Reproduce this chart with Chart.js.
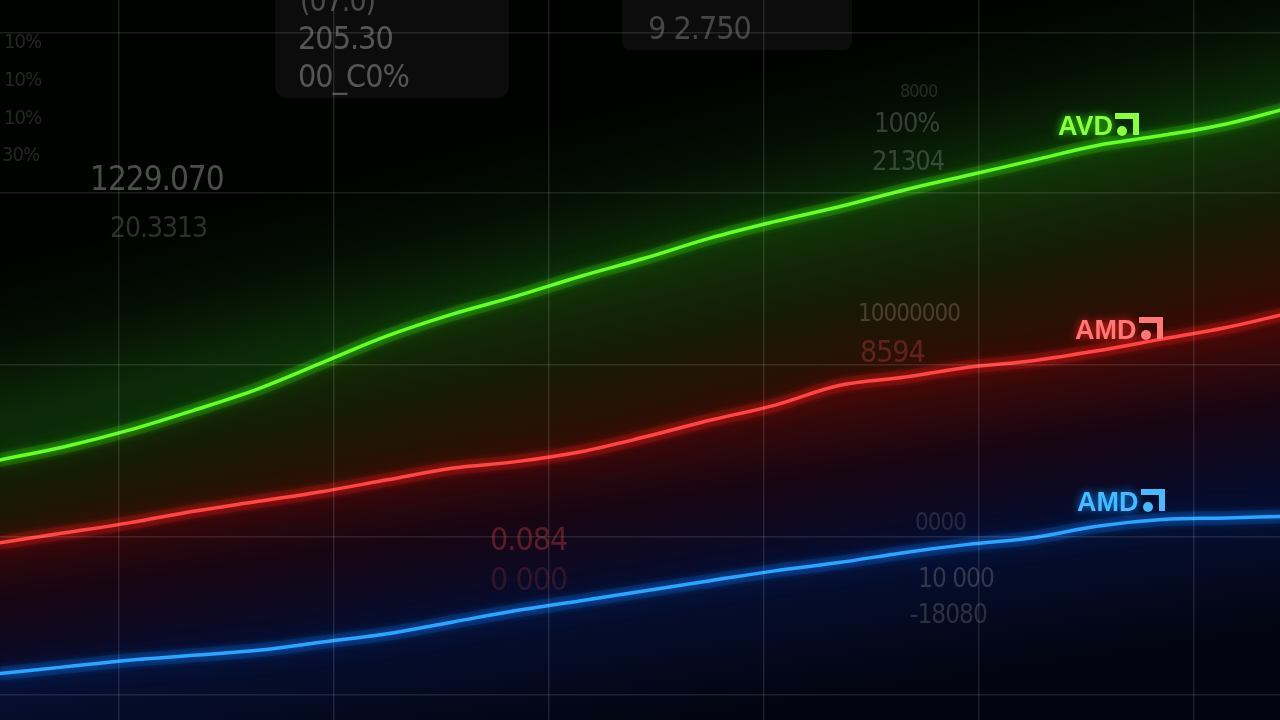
<!DOCTYPE html>
<html lang="en">
<head>
  <meta charset="utf-8" />
  <title>AMD glow lines</title>
  <style>
    html, body { margin: 0; padding: 0; background: #000; }
    body { width: 1280px; height: 720px; overflow: hidden; position: relative; font-family: "DejaVu Sans Condensed", "Liberation Sans Narrow", "DejaVu Sans", sans-serif; }
    #wrap { position: absolute; left: 0; top: 0; width: 1280px; height: 720px; }
    .t { position: absolute; white-space: nowrap; color: rgba(150,150,150,0.45); line-height: 1; letter-spacing: -1px; filter: blur(0.6px); }
    .box { position: absolute; background: rgba(255,255,255,0.045); border-radius: 12px; }
    .amd { position: absolute; font-family: "Liberation Sans", Arial, sans-serif; font-weight: bold; font-size: 27px; line-height: 1; white-space: nowrap; }
    .logo { display: inline-block; position: relative; width: 24px; height: 22px; margin-left: 2px; box-sizing: border-box; border-top: 6px solid currentColor; border-right: 6px solid currentColor; vertical-align: 0; }
    .logo i { position: absolute; left: 2px; bottom: -1px; width: 10px; height: 10px; background: currentColor; border-radius: 50%; }
  </style>
</head>
<body>
  <div id="wrap"><canvas id="chart"></canvas></div>

  <div class="box" style="left:275px;top:-12px;width:234px;height:110px;"></div>
  <div class="box" style="left:622px;top:-12px;width:230px;height:62px;border-radius:8px;"></div>

  <div class="t" style="left:300px;top:-14px;font-size:30px;">(07.0)</div>
  <div class="t" style="left:298px;top:22px;font-size:32px;color:rgba(160,160,160,0.5);">205.30</div>
  <div class="t" style="left:298px;top:60px;font-size:32px;color:rgba(160,160,160,0.5);">00_C0%</div>
  <div class="t" style="left:648px;top:12px;font-size:32px;color:rgba(140,140,140,0.45);">9 2.750</div>

  <div class="t" style="left:4px;top:31px;font-size:20px;color:rgba(120,120,120,0.3);">10%</div>
  <div class="t" style="left:4px;top:69px;font-size:20px;color:rgba(120,120,120,0.3);">10%</div>
  <div class="t" style="left:4px;top:107px;font-size:20px;color:rgba(120,120,120,0.3);">10%</div>
  <div class="t" style="left:2px;top:144px;font-size:20px;color:rgba(120,120,120,0.3);">30%</div>

  <div class="t" style="left:90px;top:162px;font-size:33px;color:rgba(150,150,150,0.5);">1229.070</div>
  <div class="t" style="left:110px;top:214px;font-size:28px;color:rgba(130,130,130,0.35);">20.3313</div>

  <div class="t" style="left:900px;top:82px;font-size:18px;color:rgba(120,120,120,0.3);">8000</div>
  <div class="t" style="left:874px;top:109px;font-size:27px;color:rgba(130,130,130,0.4);">100%</div>
  <div class="t" style="left:872px;top:147px;font-size:27px;color:rgba(130,130,130,0.4);">21304</div>

  <div class="t" style="left:858px;top:301px;font-size:24px;color:rgba(140,120,120,0.4);">10000000</div>
  <div class="t" style="left:860px;top:337px;font-size:30px;color:rgba(200,70,70,0.35);">8594</div>

  <div class="t" style="left:490px;top:523px;font-size:32px;color:rgba(200,60,60,0.4);">0.084</div>
  <div class="t" style="left:490px;top:563px;font-size:32px;color:rgba(160,50,70,0.25);">0 000</div>

  <div class="t" style="left:915px;top:510px;font-size:24px;color:rgba(110,110,130,0.3);">0000</div>
  <div class="t" style="left:918px;top:565px;font-size:26px;color:rgba(120,120,130,0.4);">10 000</div>
  <div class="t" style="left:910px;top:601px;font-size:26px;color:rgba(120,120,130,0.35);">-18080</div>

  <div class="amd" style="left:1058px;top:113px;color:#8bff3c;text-shadow:0 0 8px #3cff00;">AVD<span class="logo"><i></i></span></div>
  <div class="amd" style="left:1075px;top:317px;color:#ff7878;text-shadow:0 0 8px #ff2020;">AMD<span class="logo"><i></i></span></div>
  <div class="amd" style="left:1077px;top:489px;color:#45bcff;text-shadow:0 0 8px #0a8cff;">AMD<span class="logo"><i></i></span></div>

  <script src="https://cdn.jsdelivr.net/npm/chart.js@4.4.1/dist/chart.umd.min.js"></script>
  <script>
  // values (unitless index, x in grid steps)
  const xValues = [0.45, 0.75, 1.05, 1.35, 1.65, 1.95, 2.25, 2.55, 2.85, 3.15, 3.45, 3.75, 4.05, 4.35, 4.65, 4.95, 5.25, 5.55, 5.85, 6.15, 6.45];
  const greenValues = [1.42, 1.50, 1.60, 1.72, 1.85, 2.01, 2.17, 2.30, 2.41, 2.53, 2.64, 2.76, 2.86, 2.95, 3.05, 3.14, 3.23, 3.32, 3.38, 3.45, 3.55];
  const redValues = [0.92, 0.98, 1.04, 1.11, 1.17, 1.23, 1.30, 1.37, 1.41, 1.47, 1.56, 1.66, 1.75, 1.87, 1.92, 1.98, 2.02, 2.08, 2.15, 2.22, 2.31];
  const blueValues = [0.13, 0.17, 0.21, 0.24, 0.27, 0.32, 0.37, 0.44, 0.51, 0.57, 0.63, 0.69, 0.75, 0.80, 0.86, 0.91, 0.95, 1.02, 1.06, 1.07, 1.08];
  const xGrid = [1, 2, 3, 4, 5, 6];
  const yGrid = [0, 0.955, 1.994, 3.033, 4];

  function pts(vals) {
    return xValues.map(function (x, i) { return { x: x, y: vals[i] }; });
  }

  // angled gradient, points given as fractions of the chart area
  function band(x0, y0, x1, y1, stops) {
    return function (ctx) {
      const a = ctx.chart.chartArea;
      if (!a) return "transparent";
      const w = a.right - a.left, h = a.bottom - a.top;
      const g = ctx.chart.ctx.createLinearGradient(a.left + x0 * w, a.top + y0 * h, a.left + x1 * w, a.top + y1 * h);
      stops.forEach(function (s) { g.addColorStop(s[0], s[1]); });
      return g;
    };
  }

  const glowPlugin = {
    id: "glow",
    beforeDatasetDraw: function (chart, args) {
      const ds = chart.data.datasets[args.index];
      if (!ds.glow) return;
      chart.ctx.save();
      chart.ctx.shadowColor = ds.glow;
      chart.ctx.shadowBlur = ds.glowBlur;
    },
    afterDatasetDraw: function (chart, args) {
      if (chart.data.datasets[args.index].glow) chart.ctx.restore();
    }
  };

  // higher order = drawn further back
  function fillSet(vals, fill, bg) {
    return { data: pts(vals), fill: fill, backgroundColor: bg, borderWidth: 0, borderColor: "transparent", pointRadius: 0, tension: 0.35, order: 10 };
  }
  function lineSet(vals, color, width, glow, blur, order) {
    return { data: pts(vals), fill: false, borderColor: color, borderWidth: width, pointRadius: 0, tension: 0.35, glow: glow, glowBlur: blur, borderCapStyle: "round", order: order };
  }

  // grid z: 1 puts the faint grid over the opaque fills
  const gridOpts = { color: "rgba(255,255,255,0.11)", lineWidth: 1.5, drawTicks: false, z: 1 };

  new Chart(document.getElementById("chart"), {
    type: "line",
    data: {
      datasets: [
        fillSet(greenValues, "end", band(0.5, 0.36, 0.47, 0.15, [[0, "rgb(12,42,8)"], [0.5, "rgb(4,14,3)"], [1, "rgb(0,2,0)"]])),
        fillSet(greenValues, "+1", band(0.5, 0.36, 0.53, 0.6, [[0, "rgb(16,50,8)"], [0.45, "rgb(20,28,6)"], [1, "rgb(50,12,5)"]])),
        fillSet(redValues, "+1", band(0.5, 0.6, 0.518, 0.81, [[0, "rgb(60,10,8)"], [0.45, "rgb(24,5,18)"], [1, "rgb(6,12,44)"]])),
        fillSet(blueValues, "start", band(0.5, 0.82, 0.515, 1, [[0, "rgb(6,16,52)"], [1, "rgb(2,4,16)"]])),
        lineSet(greenValues, "rgba(60,255,20,0.14)", 14, "rgba(60,255,20,0.6)", 26, 5),
        lineSet(redValues, "rgba(255,30,30,0.14)", 14, "rgba(255,30,30,0.6)", 26, 5),
        lineSet(blueValues, "rgba(20,130,255,0.14)", 14, "rgba(20,130,255,0.6)", 26, 5),
        lineSet(greenValues, "#66ff26", 3.5, "#3cff00", 10, 0),
        lineSet(redValues, "#ff4646", 3.5, "#ff1a1a", 10, 0),
        lineSet(blueValues, "#2aa6ff", 3.5, "#0a7cff", 10, 0)
      ]
    },
    options: {
      responsive: true,
      maintainAspectRatio: false,
      animation: false,
      layout: { padding: 0 },
      plugins: { legend: { display: false }, tooltip: { enabled: false } },
      scales: {
        x: {
          type: "linear", min: 0.45, max: 6.40,
          afterBuildTicks: function (s) { s.ticks = xGrid.map(function (v) { return { value: v }; }); },
          ticks: { display: false },
          border: { display: false },
          grid: gridOpts
        },
        y: {
          type: "linear", min: -0.151, max: 4.199,
          afterBuildTicks: function (s) { s.ticks = yGrid.map(function (v) { return { value: v }; }); },
          ticks: { display: false },
          border: { display: false },
          grid: gridOpts
        }
      }
    },
    plugins: [glowPlugin]
  });
  </script>
</body>
</html>
